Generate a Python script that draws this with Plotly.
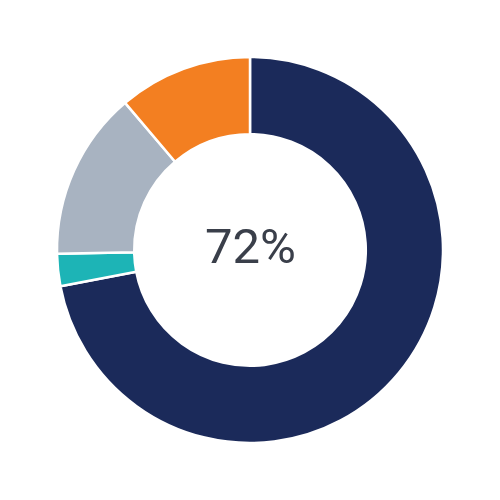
import plotly.graph_objects as go

labels = ["Navy", "Teal", "Gray", "Orange"]
values = [72.0, 2.7, 14.1, 11.2]
colors = ["#1b2a5a", "#1db4b6", "#a8b3c1", "#f37f21"]
center_text = "72%"

# page body has an 8px margin, so shift the pie up/left to centre it at 250,250
fig = go.Figure(go.Pie(
    labels=labels,
    values=values,
    hole=0.6,
    sort=False,
    direction="clockwise",
    rotation=0,
    marker=dict(colors=colors, line=dict(color="white", width=2.5)),
    textinfo="none",
    hoverinfo="label+percent",
    domain=dict(x=[0.098, 0.870], y=[0.130, 0.902]),
))

fig.add_annotation(
    text=center_text, x=0.484, y=0.524, xref="paper", yref="paper",
    showarrow=False, font=dict(family="Roboto", size=49, color="#3a3f4a"),
)

fig.update_layout(
    width=500, height=500,
    margin=dict(l=0, r=0, t=0, b=0),
    showlegend=False,
    paper_bgcolor="white",
)

fig.write_html("out.html")
